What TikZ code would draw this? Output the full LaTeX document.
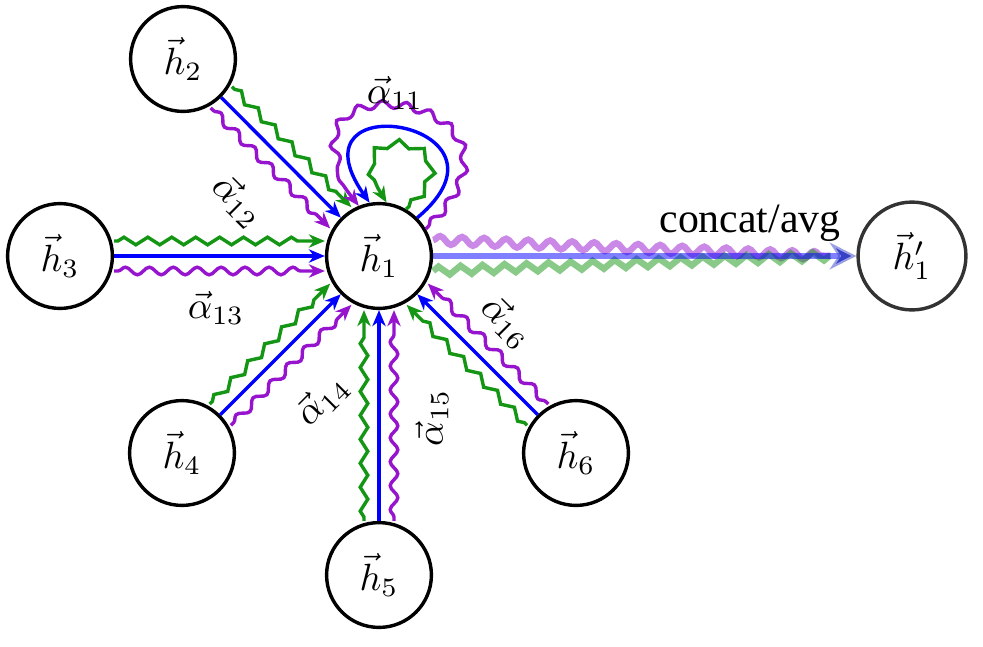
\documentclass[tikz,border=0pt]{standalone}
\usepackage{fontspec}
\newfontfamily\timesfont{Liberation Serif}
\usetikzlibrary{arrows.meta,decorations.pathmorphing,calc}
\definecolor{gatgreen}{RGB}{20,150,20}
\definecolor{gatpurple}{RGB}{150,20,205}
\definecolor{tipblue}{RGB}{55,65,200}
\begin{document}
\begin{tikzpicture}[x=0.2633pt,y=0.2633pt,
  hnode/.style={circle,draw=black,line width=0.9pt,minimum size=27.6pt,inner sep=0pt},
  arrtip/.style={-{Stealth[length=4.2pt,width=3.5pt,inset=1.3pt]}},
  bluearr/.style={arrtip,blue,line width=0.9pt},
  greenarr/.style={arrtip,gatgreen,line width=0.9pt,decorate,decoration={zigzag,amplitude=1pt,segment length=6.3pt,pre length=1pt,post length=4.5pt}},
  purplearr/.style={arrtip,gatpurple,line width=0.9pt,decorate,decoration={snake,amplitude=1pt,segment length=6.3pt,pre length=1pt,post length=4.5pt}},
  outblue/.style={-{Stealth[length=7pt,width=7pt,color=tipblue]},blue,line width=1.6pt,draw opacity=0.5},
  outgreen/.style={gatgreen,line width=1.7pt,opacity=0.5,decorate,decoration={zigzag,amplitude=1.1pt,segment length=5.8pt}},
  outpurple/.style={gatpurple,line width=1.7pt,opacity=0.5,decorate,decoration={snake,amplitude=1.1pt,segment length=5.8pt}},
  lab/.style={inner sep=1pt}
]
\useasboundingbox (0,0) rectangle (983,-646);
\node[hnode] (h1) at (379,-256) {$\vec{h}_1$};
\node[hnode] (h2) at (183,-59) {$\vec{h}_2$};
\node[hnode] (h3) at (60,-256) {$\vec{h}_3$};
\node[hnode] (h4) at (182,-453) {$\vec{h}_4$};
\node[hnode] (h5) at (379,-575) {$\vec{h}_5$};
\node[hnode] (h6) at (576,-453) {$\vec{h}_6$};
\node[hnode,draw=black!80,minimum size=28.4pt] (h1p) at (912,-256) {$\vec{h}'_1$};

% h2 -> h1
\draw[bluearr] (h2) -- (h1);
\draw[greenarr] ([shift={(45:15)}]h2.-45) -- ([shift={(45:15)}]h1.135);
\draw[purplearr] ([shift={(-135:15)}]h2.-45) -- ([shift={(-135:15)}]h1.135);
% h3 -> h1
\draw[bluearr] (h3) -- (h1);
\draw[greenarr] ([shift={(90:15)}]h3.0) -- ([shift={(90:15)}]h1.180);
\draw[purplearr] ([shift={(-90:15)}]h3.0) -- ([shift={(-90:15)}]h1.180);
% h4 -> h1
\draw[bluearr] (h4) -- (h1);
\draw[greenarr] ([shift={(135:15)}]h4.45) -- ([shift={(135:15)}]h1.-135);
\draw[purplearr] ([shift={(-45:15)}]h4.45) -- ([shift={(-45:15)}]h1.-135);
% h5 -> h1
\draw[bluearr] (h5) -- (h1);
\draw[greenarr] ([shift={(180:15)}]h5.90) -- ([shift={(180:15)}]h1.-90);
\draw[purplearr] ([shift={(0:15)}]h5.90) -- ([shift={(0:15)}]h1.-90);
% h6 -> h1
\draw[bluearr] (h6) -- (h1);
\draw[greenarr] ([shift={(-135:15)}]h6.135) -- ([shift={(-135:15)}]h1.-45);
\draw[purplearr] ([shift={(45:15)}]h6.135) -- ([shift={(45:15)}]h1.-45);
% self loops
\draw[purplearr] (h1.30) .. controls +(45:195) and +(130:195) .. (h1.112);
\draw[bluearr] (h1.45) .. controls +(40:148) and +(125:148) .. (h1.100);
\draw[greenarr] (h1.60) .. controls +(40:112) and +(125:112) .. (h1.82);

% labels
\node[lab] (a11) at (395,-93) {$\vec{\alpha}_{11}$};
\node[lab,rotate=-45] (a12) at (238,-201) {$\vec{\alpha}_{12}$};
\node[lab] (a13) at (216,-308) {$\vec{\alpha}_{13}$};
\node[lab,rotate=45] (a14) at (322,-400) {$\vec{\alpha}_{14}$};
\node[lab,rotate=90] (a15) at (432,-418) {$\vec{\alpha}_{15}$};
\node[lab,rotate=-45] (a16) at (507,-322) {$\vec{\alpha}_{16}$};

% output
\coordinate (oe) at ($(h1p.west)+(-26,0)$);
\draw[outpurple] ($(h1.east)+(0,16)$) -- (oe);
\draw[outgreen] ($(h1.east)+(0,-15)$) -- (oe);
\draw[outblue] (h1) -- (h1p);
\node[anchor=base,font=\timesfont\fontsize{11}{13}\selectfont] (cat) at (750,-232) {concat/avg};
\end{tikzpicture}
\end{document}
